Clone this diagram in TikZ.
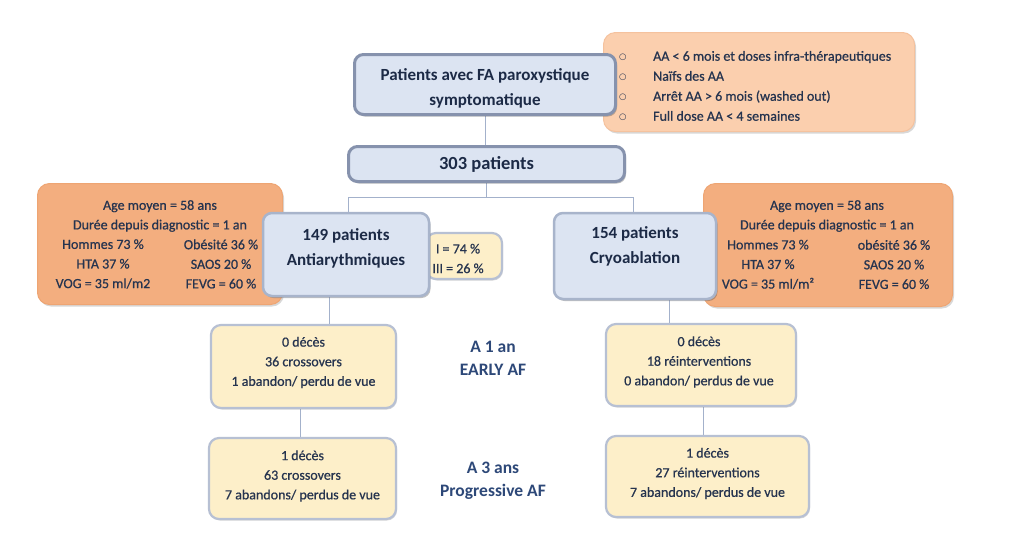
\documentclass[tikz,border=0pt]{standalone}
\usepackage{fontspec}
\setmainfont{Carlito}
\newfontfamily\semibold[FakeBold=0.7]{Carlito}
\newfontfamily\symfont{DejaVu Sans}
\usetikzlibrary{shadows,backgrounds}
\definecolor{blueFill}{HTML}{DCE4F2}
\definecolor{blueEdge}{HTML}{8692AD}
\definecolor{blueEdgeL}{HTML}{A8B4CB}
\definecolor{orangeTop}{HTML}{FBCFAE}
\definecolor{orangeTopEdge}{HTML}{F5C29E}
\definecolor{orangeSide}{HTML}{F3AE7F}
\definecolor{orangeSideEdge}{HTML}{EEA573}
\definecolor{yellowFill}{HTML}{FDEFC9}
\definecolor{yellowEdge}{HTML}{B7C0D3}
\definecolor{connCol}{HTML}{A3B1CB}
\definecolor{txtDark}{HTML}{1C2A46}
\definecolor{txtSmall}{HTML}{26344F}
\definecolor{labelCol}{HTML}{2D4878}
\newcommand\critbullet{\makebox[34pt][l]{\symfont\fontsize{8.5}{9}\selectfont\raisebox{0.8pt}{○}}}
\begin{document}
\begin{tikzpicture}[x=1pt,y=-1pt,
  box/.style={rectangle, inner sep=0pt, anchor=center},
  bluebox/.style={box, fill=blueFill, draw=blueEdgeL, line width=2.5pt, rounded corners=9pt,
    drop shadow={shadow xshift=1.5pt, shadow yshift=-2pt, opacity=.35, fill=black!70}},
  bluetop/.style={bluebox, draw=blueEdge, line width=3pt},
  orangetop/.style={box, fill=orangeTop, draw=orangeTopEdge, line width=1pt, rounded corners=12pt,
    drop shadow={shadow xshift=1.5pt, shadow yshift=-2pt, opacity=.25, fill=black!60}},
  orangeside/.style={box, fill=orangeSide, draw=orangeSideEdge, line width=1pt, rounded corners=12pt,
    drop shadow={shadow xshift=1.5pt, shadow yshift=-2pt, opacity=.25, fill=black!60}},
  yellowbox/.style={box, fill=yellowFill, draw=yellowEdge, line width=2.2pt, rounded corners=10pt,
    drop shadow={shadow xshift=1pt, shadow yshift=-1.5pt, opacity=.25, fill=black!60}},
  headtxt/.style={inner sep=0pt, align=center, text=txtDark, font=\fontsize{17}{25}\selectfont\bfseries},
  smalltxt/.style={inner sep=0pt, align=center, text=txtSmall, font=\semibold\fontsize{14}{19.6}\selectfont},
  labeltxt/.style={inner sep=0pt, align=center, text=labelCol, font=\fontsize{17.5}{23}\selectfont\bfseries},
  conn/.style={draw=connCol, line width=1pt}
]
\useasboundingbox (0,0) rectangle (1024,550);
\begin{scope}[on background layer]
  \fill[white] (0,0) rectangle (1024,550);
\end{scope}

% orange boxes (behind blue boxes)
\node[orangetop, minimum width=311pt, minimum height=99pt] (crit) at (759,82) {};
\node[smalltxt, anchor=west, align=left, font=\semibold\fontsize{14}{20}\selectfont] (crittxt) at (619,86)
  {\critbullet AA < 6 mois et doses infra-thérapeutiques\\
   \critbullet Naïfs des AA\\
   \critbullet Arrêt AA > 6 mois (washed out)\\
   \critbullet Full dose AA < 4 semaines};

\node[orangeside, minimum width=245pt, minimum height=121pt] (demoL) at (160,244) {};
\node[smalltxt] (demoLa) at (160,216) {Age moyen = 58 ans\\Durée depuis diagnostic = 1 an};
\node[smalltxt] (demoLb) at (103,264) {Hommes 73 \%\\HTA 37 \%\\VOG = 35 ml/m2};
\node[smalltxt] (demoLc) at (221,264) {Obésité 36 \%\\SAOS 20 \%\\FEVG = 60 \%};

\node[orangeside, minimum width=249pt, minimum height=123pt] (demoR) at (828,245) {};
\node[smalltxt] (demoRa) at (827,216) {Age moyen = 58 ans\\Durée depuis diagnostic = 1 an};
\node[smalltxt] (demoRb) at (768,264.5) {Hommes 73 \%\\HTA 37 \%\\VOG = 35 ml/m²};
\node[smalltxt] (demoRc) at (894,264.5) {obésité 36 \%\\SAOS 20 \%\\FEVG = 60 \%};

% small class box (behind the 149 box)
\node[yellowbox, minimum width=76pt, minimum height=46pt] (classes) at (464,256) {};
\node[smalltxt] (classestxt) at (458,258.5) {I = 74 \%\\III = 26 \%};

% blue boxes
\node[bluetop, minimum width=261pt, minimum height=60pt] (top) at (485,84.5) {};
\node[headtxt] (toptxt) at (485,88) {Patients avec FA paroxystique\\symptomatique};

\node[bluetop, minimum width=276pt, minimum height=35pt, text=txtDark,
      font=\fontsize{18.5}{22}\selectfont\bfseries] (n303) at (486.5,164) {303 patients};

\node[bluebox, minimum width=166pt, minimum height=83pt] (box149) at (346,254.5) {};
\node[headtxt] (box149txt) at (346,248) {149 patients\\Antiarythmiques};

\node[bluebox, minimum width=162pt, minimum height=86pt] (box154) at (635,256) {};
\node[headtxt] (box154txt) at (635,246.5) {154 patients\\Cryoablation};

% yellow outcome boxes
\node[yellowbox, minimum width=185pt, minimum height=83pt] (yL1) at (303.5,366.5) {};
\node[smalltxt] (yL1txt) at (303.5,362.5) {0 décès\\36 crossovers\\1 abandon/ perdu de vue};

\node[yellowbox, minimum width=187pt, minimum height=81pt] (yL2) at (302.5,478.5) {};
\node[smalltxt] (yL2txt) at (302.5,476) {1 décès\\63 crossovers\\7 abandons/ perdus de vue};

\node[yellowbox, minimum width=190pt, minimum height=82pt] (yR1) at (701,365) {};
\node[smalltxt] (yR1txt) at (699,362) {0 décès\\18 réinterventions\\0 abandon/ perdus de vue};

\node[yellowbox, minimum width=203pt, minimum height=81pt] (yR2) at (707.5,476.5) {};
\node[smalltxt] (yR2txt) at (707.5,473.5) {1 décès\\27 réinterventions\\7 abandons/ perdus de vue};

% time labels
\node[labeltxt] (early) at (493,358.5) {A 1 an\\EARLY AF};
\node[labeltxt] (prog) at (493,480.5) {A 3 ans\\Progressive AF};

% connectors
\coordinate (xL1) at (329,0);
\coordinate (xL2) at (300,0);
\coordinate (xR1) at (669,0);
\coordinate (xR2) at (703,0);
\coordinate (brL) at (348,197);
\coordinate (brR) at (633,197);
\begin{scope}[on background layer]
  \draw[conn] (top.south) -- (top.south |- n303.north);
  \draw[conn] (n303.south) -- (n303.south |- brL);
  \draw[conn] (box149.north -| brL) -- (brL) -- (brR) -- (box154.north -| brR);
  \draw[conn] (box149.south -| xL1) -- (yL1.north -| xL1);
  \draw[conn] (yL1.south -| xL2) -- (yL2.north -| xL2);
  \draw[conn] (box154.south -| xR1) -- (yR1.north -| xR1);
  \draw[conn] (yR1.south -| xR2) -- (yR2.north -| xR2);
\end{scope}
\end{tikzpicture}
\end{document}
